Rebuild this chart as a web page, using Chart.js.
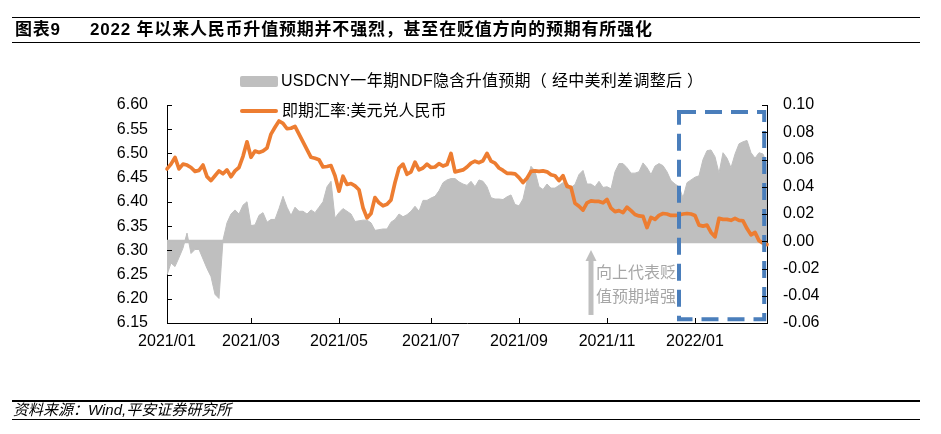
<!DOCTYPE html>
<html><head><meta charset="utf-8">
<script src="https://cdn.jsdelivr.net/npm/chart.js@4.4.0/dist/chart.umd.min.js"></script>
<style>
body{margin:0;background:#fff;}
#wrap{position:relative;width:941px;height:434px;overflow:hidden;font-family:"Liberation Sans","Noto Sans CJK SC",sans-serif;color:#000;}
#c{position:absolute;left:0;top:0;}
.rule{position:absolute;left:12px;width:908px;height:1.5px;background:#000;}
.t{position:absolute;white-space:nowrap;}
</style></head>
<body>
<div id="wrap">
<canvas id="c" width="941" height="434"></canvas>
<div class="rule" style="top:16.5px"></div>
<div class="rule" style="top:41.5px"></div>
<div class="t" style="left:15px;top:19.5px;font-size:17px;line-height:20px;font-weight:bold;letter-spacing:0.8px;">图表9</div>
<div class="t" style="left:90px;top:19.5px;font-size:17px;line-height:20px;font-weight:bold;letter-spacing:0.8px;">2022 年以来人民币升值预期并不强烈，甚至在贬值方向的预期有所强化</div>
<div style="position:absolute;left:240px;top:76px;width:38px;height:11px;background:#bfbfbf;border-radius:2px;"></div>
<div class="t" style="left:281px;top:72px;font-size:16px;line-height:18px;letter-spacing:0.3px;">USDCNY一年期NDF隐含升值预期（ 经中美利差调整后 ）</div>
<div style="position:absolute;left:240px;top:109px;width:38px;height:4px;background:#ED7D31;border-radius:2px;"></div>
<div class="t" style="left:282px;top:102px;font-size:16px;line-height:18px;">即期汇率:美元兑人民币</div>
<div class="t" style="left:596px;top:264px;font-size:16px;line-height:18px;color:#a6a6a6;">向上代表贬</div>
<div class="t" style="left:596px;top:288px;font-size:16px;line-height:18px;color:#a6a6a6;">值预期增强</div>
<div class="rule" style="top:400px"></div>
<div class="rule" style="top:418.5px"></div>
<div class="t" style="left:13px;top:400.5px;font-size:15px;line-height:18px;font-style:italic;">资料来源：Wind,平安证券研究所</div>
</div>
<script>
// x-axis tick labels and the sample index where each sits
const xTickLabels = ['2021/01','2021/03','2021/05','2021/07','2021/09','2021/11','2022/01'];
const xTickAt = [0, 21, 43, 66, 88, 110, 132];
const yTicks = [6.15,6.20,6.25,6.30,6.35,6.40,6.45,6.50,6.55,6.60];
const y2Ticks = [-0.06,-0.04,-0.02,0.00,0.02,0.04,0.06,0.08,0.10];

// 即期汇率:美元兑人民币 (left axis)
const spot = [6.468,6.478,6.492,6.468,6.478,6.476,6.471,6.463,6.465,6.476,
6.452,6.444,6.454,6.464,6.458,6.466,6.452,6.464,6.471,6.494,
6.524,6.492,6.505,6.502,6.505,6.511,6.540,6.554,6.567,6.562,
6.551,6.552,6.556,6.540,6.524,6.508,6.492,6.490,6.487,6.472,
6.473,6.475,6.454,6.422,6.453,6.436,6.438,6.433,6.425,6.388,
6.367,6.376,6.409,6.398,6.392,6.395,6.404,6.440,6.470,6.478,
6.457,6.462,6.482,6.466,6.470,6.478,6.471,6.472,6.479,6.474,
6.477,6.500,6.462,6.464,6.466,6.472,6.480,6.484,6.481,6.485,
6.500,6.484,6.480,6.470,6.465,6.459,6.459,6.458,6.450,6.440,
6.449,6.463,6.464,6.463,6.464,6.462,6.456,6.454,6.444,6.454,
6.432,6.430,6.397,6.391,6.383,6.398,6.402,6.401,6.401,6.398,
6.405,6.387,6.380,6.382,6.378,6.389,6.382,6.374,6.371,6.370,
6.347,6.368,6.364,6.372,6.376,6.375,6.372,6.372,6.373,6.375,
6.376,6.375,6.372,6.352,6.350,6.352,6.337,6.328,6.366,6.364,
6.364,6.362,6.366,6.362,6.361,6.345,6.332,6.337,6.320,6.315,
6.312];

// USDCNY一年期NDF隐含升值预期 (right axis)
const ndf = [-0.0247,-0.016,-0.0186,-0.012,-0.005,0.006,-0.009,-0.006,-0.006,-0.013,
-0.020,-0.026,-0.039,-0.042,0.001,0.0136,0.020,0.023,0.020,0.0265,
0.029,0.0115,0.012,0.019,0.021,0.014,0.016,0.016,0.024,0.033,
0.025,0.019,0.025,0.022,0.022,0.020,0.023,0.021,0.025,0.029,
0.040,0.044,0.017,0.021,0.024,0.022,0.020,0.0145,0.015,0.0155,
0.0155,0.0135,0.008,0.0085,0.009,0.009,0.014,0.016,0.020,0.018,
0.0195,0.022,0.0257,0.022,0.030,0.030,0.0317,0.033,0.037,0.043,
0.045,0.046,0.046,0.0436,0.042,0.041,0.044,0.040,0.045,0.044,
0.040,0.032,0.031,0.031,0.0306,0.0326,0.034,0.027,0.026,0.031,
0.044,0.055,0.0515,0.040,0.038,0.042,0.039,0.039,0.041,0.043,
0.043,0.0395,0.0417,0.049,0.052,0.042,0.042,0.040,0.044,0.0395,
0.040,0.0385,0.051,0.057,0.057,0.054,0.050,0.050,0.051,0.0575,
0.054,0.049,0.0552,0.057,0.0555,0.051,0.0445,0.042,0.040,0.032,
0.043,0.045,0.047,0.048,0.060,0.0665,0.067,0.062,0.050,0.065,
0.061,0.054,0.064,0.0715,0.073,0.074,0.065,0.061,0.065,0.064,
0.057];

// highlighted 2022 window (sample index range, right-axis values) and the annotation arrow
const box = {from:128, to:149.3, top:0.0948, bottom:-0.0572};
const arrow = {at:106, tip:-0.0064, base:-0.0541};

const labels = spot.map((_, i) => String(i));

const deco = {
  id:'deco',
  beforeDatasetsDraw(chart){
    const {ctx, chartArea:a, scales:{y2}} = chart;
    const z = y2.getPixelForValue(0);
    ctx.save(); ctx.fillStyle='#bfbfbf';
    ctx.fillRect(a.left, z-1.5, a.right-a.left, 3.5);
    ctx.restore();
  },
  afterDatasetsDraw(chart){
    const {ctx, scales:{x, y2}} = chart;
    ctx.save();
    const ax = x.getPixelForValue(arrow.at);
    const yt = y2.getPixelForValue(arrow.tip), yb = y2.getPixelForValue(arrow.base);
    ctx.fillStyle='#bfbfbf';
    ctx.fillRect(ax-2.5, yt+10, 5, yb-yt-10);
    ctx.beginPath(); ctx.moveTo(ax, yt); ctx.lineTo(ax-5.5, yt+11); ctx.lineTo(ax+5.5, yt+11); ctx.closePath(); ctx.fill();
    const x0 = x.getPixelForValue(box.from), x1 = x.getPixelForValue(box.to);
    const t = y2.getPixelForValue(box.top), b = y2.getPixelForValue(box.bottom);
    ctx.strokeStyle='#4a7ebb'; ctx.lineWidth=4; ctx.setLineDash([17,9]);
    ctx.strokeRect(x0, t, x1-x0, b-t);
    ctx.restore();
  },
  afterDraw(chart){
    const {ctx, chartArea:a, scales:{x, y, y2}} = chart;
    ctx.save(); ctx.strokeStyle='#000'; ctx.lineWidth=1; ctx.beginPath();
    x.ticks.forEach((tk,i)=>{ const px=Math.round(x.getPixelForTick(i))+0.5; ctx.moveTo(px,a.bottom); ctx.lineTo(px,a.bottom-5); });
    y.ticks.forEach((tk,i)=>{ const py=Math.round(y.getPixelForTick(i))+0.5; ctx.moveTo(a.left,py); ctx.lineTo(a.left+5,py); });
    y2.ticks.forEach((tk,i)=>{ const py=Math.round(y2.getPixelForTick(i))+0.5; ctx.moveTo(a.right,py); ctx.lineTo(a.right-5,py); });
    ctx.stroke(); ctx.restore();
  }
};

const tickFont = {family:'Liberation Sans', size:16};
new Chart(document.getElementById('c'), {
  type:'line',
  data:{
    labels,
    datasets:[
      {label:'即期汇率:美元兑人民币', data:spot, yAxisID:'y', borderColor:'#ED7D31', borderWidth:3.7,
       pointRadius:0, tension:0, fill:false, order:0, borderJoinStyle:'round', borderCapStyle:'round'},
      {label:'USDCNY一年期NDF隐含升值预期（经中美利差调整后）', data:ndf, yAxisID:'y2', backgroundColor:'#bfbfbf',
       borderColor:'#bfbfbf', borderWidth:1, pointRadius:0, tension:0, fill:'origin', order:1}
    ]
  },
  options:{
    responsive:false, animation:false, events:[], devicePixelRatio:1,
    layout:{padding:{top:105,left:0,right:0,bottom:0}},
    plugins:{legend:{display:false}, tooltip:{enabled:false}},
    scales:{
      x:{type:'category', offset:false,
         grid:{display:true, drawOnChartArea:false, drawTicks:false},
         border:{display:true, color:'#000', width:1},
         ticks:{autoSkip:false, maxRotation:0, minRotation:0, padding:9, font:tickFont, color:'#000',
                callback:(v,i)=>xTickLabels[i]},
         afterBuildTicks:s=>{ s.ticks = xTickAt.map(v=>({value:v})); },
         afterFit:s=>{ s.height = 111; }},
      y:{position:'left', min:6.15, max:6.60,
         grid:{display:true, drawOnChartArea:false, drawTicks:false},
         border:{display:true, color:'#000', width:1},
         ticks:{padding:19, font:tickFont, color:'#000', callback:v=>Number(v).toFixed(2)},
         afterBuildTicks:s=>{ s.ticks = yTicks.map(v=>({value:v})); },
         afterFit:s=>{ s.width = 167; }},
      y2:{position:'right', min:-0.06, max:0.10,
         grid:{display:true, drawOnChartArea:false, drawTicks:false},
         border:{display:true, color:'#000', width:1},
         ticks:{padding:16, font:tickFont, color:'#000', callback:v=>Number(v).toFixed(2)},
         afterBuildTicks:s=>{ s.ticks = y2Ticks.map(v=>({value:v})); },
         afterFit:s=>{ s.width = 174; }}
    }
  },
  plugins:[deco]
});
</script>
</body></html>
